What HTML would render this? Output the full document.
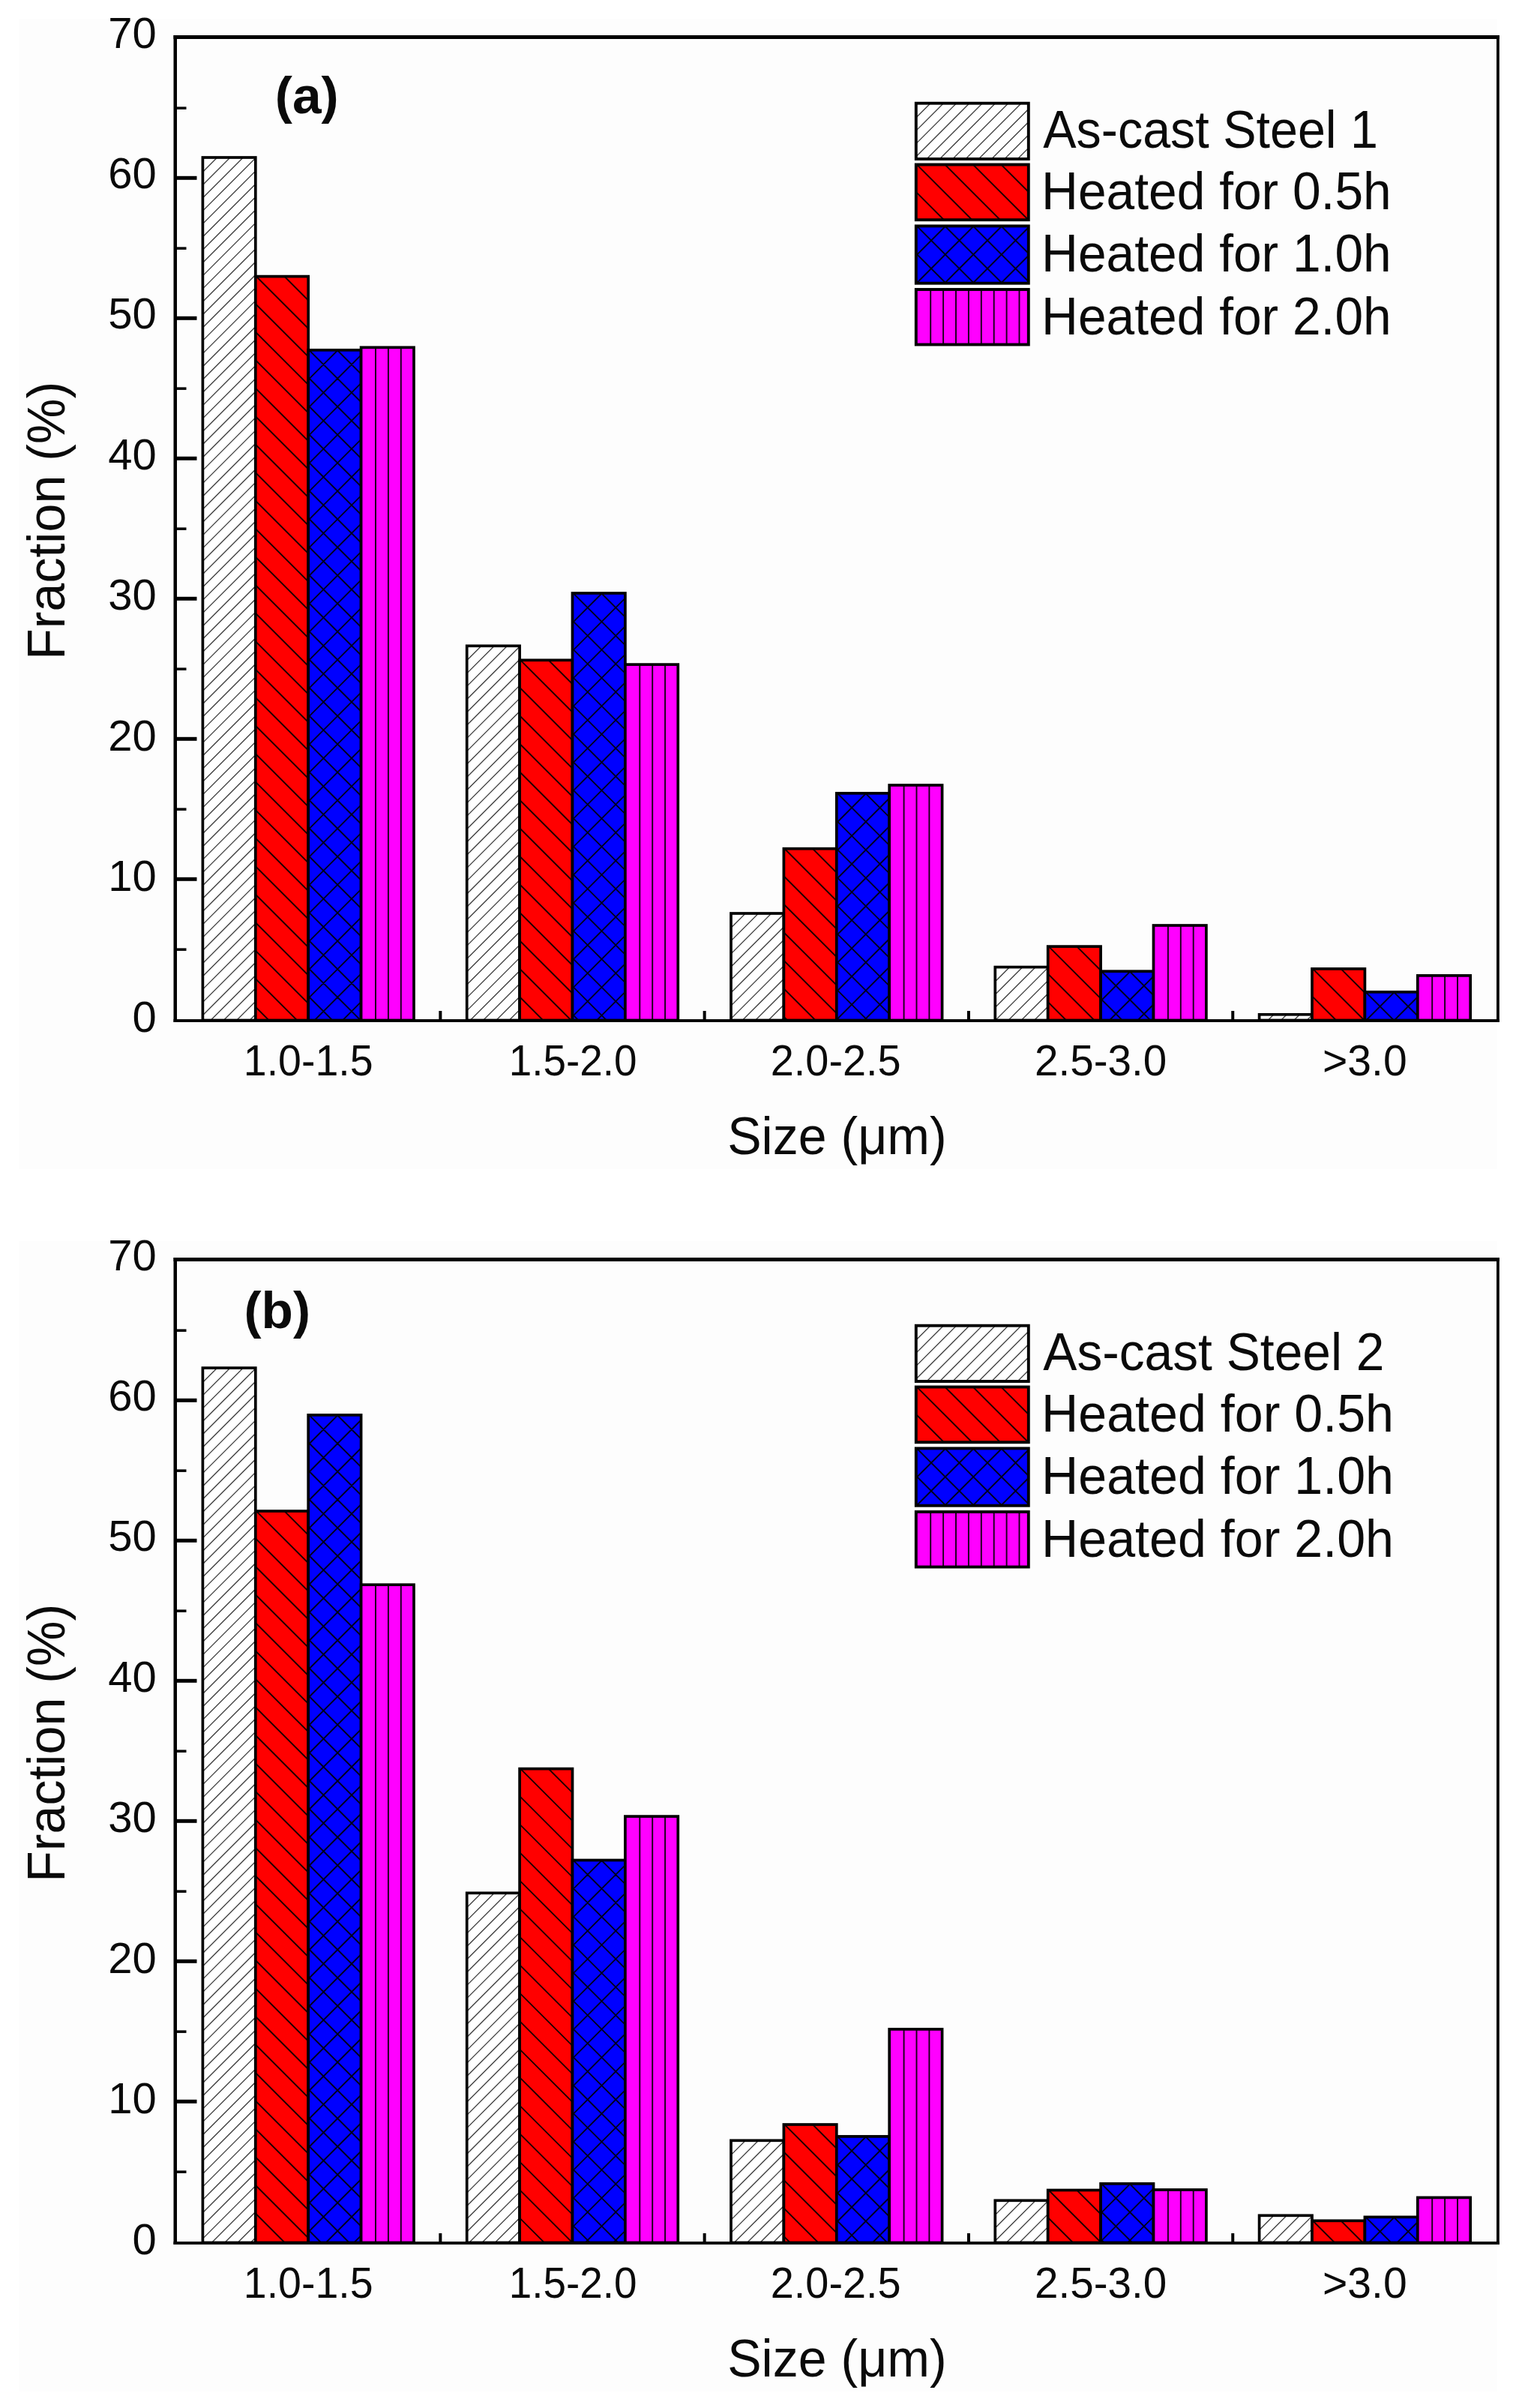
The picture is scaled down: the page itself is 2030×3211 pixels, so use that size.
<!DOCTYPE html>
<html lang="en">
<head>
<meta charset="utf-8">
<title>Size fraction of inclusions</title>
<style>
html,body{margin:0;padding:0;background:#fff;}
svg{display:block;}
text{font-family:"Liberation Sans", sans-serif;fill:#0a0a0a;}
</style>
</head>
<body>
<svg width="2030" height="3211" viewBox="0 0 2030 3211">
<rect width="2030" height="3211" fill="#fff"/>
<rect x="25" y="25" width="1972" height="1534" fill="#fdfdfd"/>
<rect x="25" y="1655" width="1972" height="1534" fill="#fdfdfd"/>
<defs>
<clipPath id="c1"><rect x="270.4" y="210" width="70.4" height="1150.5"/></clipPath>
<clipPath id="c2"><rect x="340.8" y="368.6" width="70.4" height="991.9"/></clipPath>
<clipPath id="c3"><rect x="411.2" y="466.8" width="70.4" height="893.7"/></clipPath>
<clipPath id="c4"><rect x="481.6" y="463.3" width="70.4" height="897.2"/></clipPath>
<clipPath id="c5"><rect x="622.7" y="861.3" width="70.4" height="499.2"/></clipPath>
<clipPath id="c6"><rect x="693.1" y="880.3" width="70.4" height="480.2"/></clipPath>
<clipPath id="c7"><rect x="763.5" y="791" width="70.4" height="569.5"/></clipPath>
<clipPath id="c8"><rect x="833.9" y="886.1" width="70.4" height="474.4"/></clipPath>
<clipPath id="c9"><rect x="975" y="1218" width="70.4" height="142.5"/></clipPath>
<clipPath id="c10"><rect x="1045.4" y="1131.7" width="70.4" height="228.8"/></clipPath>
<clipPath id="c11"><rect x="1115.8" y="1057.8" width="70.4" height="302.7"/></clipPath>
<clipPath id="c12"><rect x="1186.2" y="1047" width="70.4" height="313.5"/></clipPath>
<clipPath id="c13"><rect x="1327.3" y="1289.6" width="70.4" height="70.9"/></clipPath>
<clipPath id="c14"><rect x="1397.7" y="1262.1" width="70.4" height="98.4"/></clipPath>
<clipPath id="c15"><rect x="1468.1" y="1295.2" width="70.4" height="65.3"/></clipPath>
<clipPath id="c16"><rect x="1538.5" y="1234" width="70.4" height="126.5"/></clipPath>
<clipPath id="c17"><rect x="1679.6" y="1352.8" width="70.4" height="7.7"/></clipPath>
<clipPath id="c18"><rect x="1750" y="1291.9" width="70.4" height="68.6"/></clipPath>
<clipPath id="c19"><rect x="1820.4" y="1322.8" width="70.4" height="37.7"/></clipPath>
<clipPath id="c20"><rect x="1890.8" y="1300.9" width="70.4" height="59.6"/></clipPath>
<clipPath id="c21"><rect x="1221.8" y="137.7" width="150" height="74.3"/></clipPath>
<clipPath id="c22"><rect x="1221.8" y="219.5" width="150" height="73.7"/></clipPath>
<clipPath id="c23"><rect x="1221.8" y="301.4" width="150" height="76.3"/></clipPath>
<clipPath id="c24"><rect x="1221.8" y="386" width="150" height="73.5"/></clipPath>
<clipPath id="c25"><rect x="270.4" y="194.1" width="70.4" height="1166.4"/></clipPath>
<clipPath id="c26"><rect x="340.8" y="385" width="70.4" height="975.5"/></clipPath>
<clipPath id="c27"><rect x="411.2" y="256.9" width="70.4" height="1103.6"/></clipPath>
<clipPath id="c28"><rect x="481.6" y="483.2" width="70.4" height="877.3"/></clipPath>
<clipPath id="c29"><rect x="622.7" y="894.3" width="70.4" height="466.2"/></clipPath>
<clipPath id="c30"><rect x="693.1" y="728.6" width="70.4" height="631.9"/></clipPath>
<clipPath id="c31"><rect x="763.5" y="850.5" width="70.4" height="510"/></clipPath>
<clipPath id="c32"><rect x="833.9" y="792.1" width="70.4" height="568.4"/></clipPath>
<clipPath id="c33"><rect x="975" y="1224.3" width="70.4" height="136.2"/></clipPath>
<clipPath id="c34"><rect x="1045.4" y="1203" width="70.4" height="157.5"/></clipPath>
<clipPath id="c35"><rect x="1115.8" y="1218.9" width="70.4" height="141.6"/></clipPath>
<clipPath id="c36"><rect x="1186.2" y="1075.9" width="70.4" height="284.6"/></clipPath>
<clipPath id="c37"><rect x="1327.3" y="1304.3" width="70.4" height="56.2"/></clipPath>
<clipPath id="c38"><rect x="1397.7" y="1290.5" width="70.4" height="70"/></clipPath>
<clipPath id="c39"><rect x="1468.1" y="1281.9" width="70.4" height="78.6"/></clipPath>
<clipPath id="c40"><rect x="1538.5" y="1290" width="70.4" height="70.5"/></clipPath>
<clipPath id="c41"><rect x="1679.6" y="1324.3" width="70.4" height="36.2"/></clipPath>
<clipPath id="c42"><rect x="1750" y="1331.3" width="70.4" height="29.2"/></clipPath>
<clipPath id="c43"><rect x="1820.4" y="1326.4" width="70.4" height="34.1"/></clipPath>
<clipPath id="c44"><rect x="1890.8" y="1300.4" width="70.4" height="60.1"/></clipPath>
<clipPath id="c45"><rect x="1221.8" y="137.7" width="150" height="74.3"/></clipPath>
<clipPath id="c46"><rect x="1221.8" y="219.5" width="150" height="73.7"/></clipPath>
<clipPath id="c47"><rect x="1221.8" y="301.4" width="150" height="76.3"/></clipPath>
<clipPath id="c48"><rect x="1221.8" y="386" width="150" height="73.5"/></clipPath>
</defs>
<g id="plot-a">
<rect x="270.4" y="210" width="70.4" height="1150.5" fill="#ffffff"/>
<path clip-path="url(#c1)" d="M274.4 208L268.4 214M291.7 208L268.4 231.3M309 208L268.4 248.6M326.3 208L268.4 265.9M343.6 208L268.4 283.2M360.9 208L268.4 300.5M378.2 208L268.4 317.8M395.5 208L268.4 335.1M412.8 208L268.4 352.4M430.1 208L268.4 369.7M447.4 208L268.4 387M464.7 208L268.4 404.3M482 208L268.4 421.6M499.3 208L268.4 438.9M516.6 208L268.4 456.2M533.9 208L268.4 473.5M551.2 208L268.4 490.8M568.5 208L268.4 508.1M585.8 208L268.4 525.4M603.1 208L268.4 542.7M620.4 208L268.4 560M637.7 208L268.4 577.3M655 208L268.4 594.6M672.3 208L268.4 611.9M689.6 208L268.4 629.2M706.9 208L268.4 646.5M724.2 208L268.4 663.8M741.5 208L268.4 681.1M758.8 208L268.4 698.4M776.1 208L268.4 715.7M793.4 208L268.4 733M810.7 208L268.4 750.3M828 208L268.4 767.6M845.3 208L268.4 784.9M862.6 208L268.4 802.2M879.9 208L268.4 819.5M897.2 208L268.4 836.8M914.5 208L268.4 854.1M931.8 208L268.4 871.4M949.1 208L268.4 888.7M966.4 208L268.4 906M983.7 208L268.4 923.3M1001 208L268.4 940.6M1018.3 208L268.4 957.9M1035.6 208L268.4 975.2M1052.9 208L268.4 992.5M1070.2 208L268.4 1009.8M1087.5 208L268.4 1027.1M1104.8 208L268.4 1044.4M1122.1 208L268.4 1061.7M1139.4 208L268.4 1079M1156.7 208L268.4 1096.3M1174 208L268.4 1113.6M1191.3 208L268.4 1130.9M1208.6 208L268.4 1148.2M1225.9 208L268.4 1165.5M1243.2 208L268.4 1182.8M1260.5 208L268.4 1200.1M1277.8 208L268.4 1217.4M1295.1 208L268.4 1234.7M1312.4 208L268.4 1252M1329.7 208L268.4 1269.3M1347 208L268.4 1286.6M1364.3 208L268.4 1303.9M1381.6 208L268.4 1321.2M1398.9 208L268.4 1338.5M1416.2 208L268.4 1355.8M1433.5 208L268.4 1373.1M1450.8 208L268.4 1390.4M1468.1 208L268.4 1407.7M1485.4 208L268.4 1425" stroke="#404040" stroke-width="1.35" fill="none"/>
<rect x="270.4" y="210" width="70.4" height="1150.5" fill="none" stroke="#000" stroke-width="3.7"/>
<rect x="340.8" y="368.6" width="70.4" height="991.9" fill="#ff0000"/>
<path clip-path="url(#c2)" d="M-672.7 366.6L323.2 1362.5M-635.2 366.6L360.7 1362.5M-597.7 366.6L398.2 1362.5M-560.2 366.6L435.7 1362.5M-522.7 366.6L473.2 1362.5M-485.2 366.6L510.7 1362.5M-447.7 366.6L548.2 1362.5M-410.2 366.6L585.7 1362.5M-372.7 366.6L623.2 1362.5M-335.2 366.6L660.7 1362.5M-297.7 366.6L698.2 1362.5M-260.2 366.6L735.7 1362.5M-222.7 366.6L773.2 1362.5M-185.2 366.6L810.7 1362.5M-147.7 366.6L848.2 1362.5M-110.2 366.6L885.7 1362.5M-72.7 366.6L923.2 1362.5M-35.2 366.6L960.7 1362.5M2.3 366.6L998.2 1362.5M39.8 366.6L1035.7 1362.5M77.3 366.6L1073.2 1362.5M114.8 366.6L1110.7 1362.5M152.3 366.6L1148.2 1362.5M189.8 366.6L1185.7 1362.5M227.3 366.6L1223.2 1362.5M264.8 366.6L1260.7 1362.5M302.3 366.6L1298.2 1362.5M339.8 366.6L1335.7 1362.5M377.3 366.6L1373.2 1362.5" stroke="#1a0000" stroke-width="1.9" fill="none"/>
<rect x="340.8" y="368.6" width="70.4" height="991.9" fill="none" stroke="#000" stroke-width="3.7"/>
<rect x="411.2" y="466.8" width="70.4" height="893.7" fill="#0000ff"/>
<path clip-path="url(#c3)" d="M-489.8 464.8L407.9 1362.5M-452.3 464.8L445.4 1362.5M-414.8 464.8L482.9 1362.5M-377.3 464.8L520.4 1362.5M-339.8 464.8L557.9 1362.5M-302.3 464.8L595.4 1362.5M-264.8 464.8L632.9 1362.5M-227.3 464.8L670.4 1362.5M-189.8 464.8L707.9 1362.5M-152.3 464.8L745.4 1362.5M-114.8 464.8L782.9 1362.5M-77.3 464.8L820.4 1362.5M-39.8 464.8L857.9 1362.5M-2.3 464.8L895.4 1362.5M35.2 464.8L932.9 1362.5M72.7 464.8L970.4 1362.5M110.2 464.8L1007.9 1362.5M147.7 464.8L1045.4 1362.5M185.2 464.8L1082.9 1362.5M222.7 464.8L1120.4 1362.5M260.2 464.8L1157.9 1362.5M297.7 464.8L1195.4 1362.5M335.2 464.8L1232.9 1362.5M372.7 464.8L1270.4 1362.5M410.2 464.8L1307.9 1362.5M447.7 464.8L1345.4 1362.5M415.2 464.8L409.2 470.8M452.7 464.8L409.2 508.3M490.2 464.8L409.2 545.8M527.7 464.8L409.2 583.3M565.2 464.8L409.2 620.8M602.7 464.8L409.2 658.3M640.2 464.8L409.2 695.8M677.7 464.8L409.2 733.3M715.2 464.8L409.2 770.8M752.7 464.8L409.2 808.3M790.2 464.8L409.2 845.8M827.7 464.8L409.2 883.3M865.2 464.8L409.2 920.8M902.7 464.8L409.2 958.3M940.2 464.8L409.2 995.8M977.7 464.8L409.2 1033.3M1015.2 464.8L409.2 1070.8M1052.7 464.8L409.2 1108.3M1090.2 464.8L409.2 1145.8M1127.7 464.8L409.2 1183.3M1165.2 464.8L409.2 1220.8M1202.7 464.8L409.2 1258.3M1240.2 464.8L409.2 1295.8M1277.7 464.8L409.2 1333.3M1315.2 464.8L409.2 1370.8M1352.7 464.8L409.2 1408.3" stroke="#00001a" stroke-width="1.9" fill="none"/>
<rect x="411.2" y="466.8" width="70.4" height="893.7" fill="none" stroke="#000" stroke-width="3.7"/>
<rect x="481.6" y="463.3" width="70.4" height="897.2" fill="#ff00ff"/>
<path clip-path="url(#c4)" d="M501 463.3V1360.5M517.9 463.3V1360.5M534.8 463.3V1360.5" stroke="#1a0018" stroke-width="1.9" fill="none"/>
<rect x="481.6" y="463.3" width="70.4" height="897.2" fill="none" stroke="#000" stroke-width="3.7"/>
<rect x="622.7" y="861.3" width="70.4" height="499.2" fill="#ffffff"/>
<path clip-path="url(#c5)" d="M626.7 859.3L620.7 865.3M644 859.3L620.7 882.6M661.3 859.3L620.7 899.9M678.6 859.3L620.7 917.2M695.9 859.3L620.7 934.5M713.2 859.3L620.7 951.8M730.5 859.3L620.7 969.1M747.8 859.3L620.7 986.4M765.1 859.3L620.7 1003.7M782.4 859.3L620.7 1021M799.7 859.3L620.7 1038.3M817 859.3L620.7 1055.6M834.3 859.3L620.7 1072.9M851.6 859.3L620.7 1090.2M868.9 859.3L620.7 1107.5M886.2 859.3L620.7 1124.8M903.5 859.3L620.7 1142.1M920.8 859.3L620.7 1159.4M938.1 859.3L620.7 1176.7M955.4 859.3L620.7 1194M972.7 859.3L620.7 1211.3M990 859.3L620.7 1228.6M1007.3 859.3L620.7 1245.9M1024.6 859.3L620.7 1263.2M1041.9 859.3L620.7 1280.5M1059.2 859.3L620.7 1297.8M1076.5 859.3L620.7 1315.1M1093.8 859.3L620.7 1332.4M1111.1 859.3L620.7 1349.7M1128.4 859.3L620.7 1367M1145.7 859.3L620.7 1384.3M1163 859.3L620.7 1401.6M1180.3 859.3L620.7 1418.9" stroke="#404040" stroke-width="1.35" fill="none"/>
<rect x="622.7" y="861.3" width="70.4" height="499.2" fill="none" stroke="#000" stroke-width="3.7"/>
<rect x="693.1" y="880.3" width="70.4" height="480.2" fill="#ff0000"/>
<path clip-path="url(#c6)" d="M204.6 878.3L688.8 1362.5M242.1 878.3L726.3 1362.5M279.6 878.3L763.8 1362.5M317.1 878.3L801.3 1362.5M354.6 878.3L838.8 1362.5M392.1 878.3L876.3 1362.5M429.6 878.3L913.8 1362.5M467.1 878.3L951.3 1362.5M504.6 878.3L988.8 1362.5M542.1 878.3L1026.3 1362.5M579.6 878.3L1063.8 1362.5M617.1 878.3L1101.3 1362.5M654.6 878.3L1138.8 1362.5M692.1 878.3L1176.3 1362.5M729.6 878.3L1213.8 1362.5" stroke="#1a0000" stroke-width="1.9" fill="none"/>
<rect x="693.1" y="880.3" width="70.4" height="480.2" fill="none" stroke="#000" stroke-width="3.7"/>
<rect x="763.5" y="791" width="70.4" height="569.5" fill="#0000ff"/>
<path clip-path="url(#c7)" d="M162.5 789L736 1362.5M200 789L773.5 1362.5M237.5 789L811 1362.5M275 789L848.5 1362.5M312.5 789L886 1362.5M350 789L923.5 1362.5M387.5 789L961 1362.5M425 789L998.5 1362.5M462.5 789L1036 1362.5M500 789L1073.5 1362.5M537.5 789L1111 1362.5M575 789L1148.5 1362.5M612.5 789L1186 1362.5M650 789L1223.5 1362.5M687.5 789L1261 1362.5M725 789L1298.5 1362.5M762.5 789L1336 1362.5M800 789L1373.5 1362.5M767.5 789L761.5 795M805 789L761.5 832.5M842.5 789L761.5 870M880 789L761.5 907.5M917.5 789L761.5 945M955 789L761.5 982.5M992.5 789L761.5 1020M1030 789L761.5 1057.5M1067.5 789L761.5 1095M1105 789L761.5 1132.5M1142.5 789L761.5 1170M1180 789L761.5 1207.5M1217.5 789L761.5 1245M1255 789L761.5 1282.5M1292.5 789L761.5 1320M1330 789L761.5 1357.5M1367.5 789L761.5 1395M1405 789L761.5 1432.5" stroke="#00001a" stroke-width="1.9" fill="none"/>
<rect x="763.5" y="791" width="70.4" height="569.5" fill="none" stroke="#000" stroke-width="3.7"/>
<rect x="833.9" y="886.1" width="70.4" height="474.4" fill="#ff00ff"/>
<path clip-path="url(#c8)" d="M853.3 886.1V1360.5M870.2 886.1V1360.5M887.1 886.1V1360.5" stroke="#1a0018" stroke-width="1.9" fill="none"/>
<rect x="833.9" y="886.1" width="70.4" height="474.4" fill="none" stroke="#000" stroke-width="3.7"/>
<rect x="975" y="1218" width="70.4" height="142.5" fill="#ffffff"/>
<path clip-path="url(#c9)" d="M979 1216L973 1222M996.3 1216L973 1239.3M1013.6 1216L973 1256.6M1030.9 1216L973 1273.9M1048.2 1216L973 1291.2M1065.5 1216L973 1308.5M1082.8 1216L973 1325.8M1100.1 1216L973 1343.1M1117.4 1216L973 1360.4M1134.7 1216L973 1377.7M1152 1216L973 1395M1169.3 1216L973 1412.3M1186.6 1216L973 1429.6" stroke="#404040" stroke-width="1.35" fill="none"/>
<rect x="975" y="1218" width="70.4" height="142.5" fill="none" stroke="#000" stroke-width="3.7"/>
<rect x="1045.4" y="1131.7" width="70.4" height="228.8" fill="#ff0000"/>
<path clip-path="url(#c10)" d="M781.9 1129.7L1014.7 1362.5M819.4 1129.7L1052.2 1362.5M856.9 1129.7L1089.7 1362.5M894.4 1129.7L1127.2 1362.5M931.9 1129.7L1164.7 1362.5M969.4 1129.7L1202.2 1362.5M1006.9 1129.7L1239.7 1362.5M1044.4 1129.7L1277.2 1362.5M1081.9 1129.7L1314.7 1362.5" stroke="#1a0000" stroke-width="1.9" fill="none"/>
<rect x="1045.4" y="1131.7" width="70.4" height="228.8" fill="none" stroke="#000" stroke-width="3.7"/>
<rect x="1115.8" y="1057.8" width="70.4" height="302.7" fill="#0000ff"/>
<path clip-path="url(#c11)" d="M777.3 1055.8L1084 1362.5M814.8 1055.8L1121.5 1362.5M852.3 1055.8L1159 1362.5M889.8 1055.8L1196.5 1362.5M927.3 1055.8L1234 1362.5M964.8 1055.8L1271.5 1362.5M1002.3 1055.8L1309 1362.5M1039.8 1055.8L1346.5 1362.5M1077.3 1055.8L1384 1362.5M1114.8 1055.8L1421.5 1362.5M1152.3 1055.8L1459 1362.5M1119.8 1055.8L1113.8 1061.8M1157.3 1055.8L1113.8 1099.3M1194.8 1055.8L1113.8 1136.8M1232.3 1055.8L1113.8 1174.3M1269.8 1055.8L1113.8 1211.8M1307.3 1055.8L1113.8 1249.3M1344.8 1055.8L1113.8 1286.8M1382.3 1055.8L1113.8 1324.3M1419.8 1055.8L1113.8 1361.8M1457.3 1055.8L1113.8 1399.3" stroke="#00001a" stroke-width="1.9" fill="none"/>
<rect x="1115.8" y="1057.8" width="70.4" height="302.7" fill="none" stroke="#000" stroke-width="3.7"/>
<rect x="1186.2" y="1047" width="70.4" height="313.5" fill="#ff00ff"/>
<path clip-path="url(#c12)" d="M1205.6 1047V1360.5M1222.5 1047V1360.5M1239.4 1047V1360.5" stroke="#1a0018" stroke-width="1.9" fill="none"/>
<rect x="1186.2" y="1047" width="70.4" height="313.5" fill="none" stroke="#000" stroke-width="3.7"/>
<rect x="1327.3" y="1289.6" width="70.4" height="70.9" fill="#ffffff"/>
<path clip-path="url(#c13)" d="M1331.3 1287.6L1325.3 1293.6M1348.6 1287.6L1325.3 1310.9M1365.9 1287.6L1325.3 1328.2M1383.2 1287.6L1325.3 1345.5M1400.5 1287.6L1325.3 1362.8M1417.8 1287.6L1325.3 1380.1M1435.1 1287.6L1325.3 1397.4M1452.4 1287.6L1325.3 1414.7M1469.7 1287.6L1325.3 1432" stroke="#404040" stroke-width="1.35" fill="none"/>
<rect x="1327.3" y="1289.6" width="70.4" height="70.9" fill="none" stroke="#000" stroke-width="3.7"/>
<rect x="1397.7" y="1262.1" width="70.4" height="98.4" fill="#ff0000"/>
<path clip-path="url(#c14)" d="M1284.2 1260.1L1386.6 1362.5M1321.7 1260.1L1424.1 1362.5M1359.2 1260.1L1461.6 1362.5M1396.7 1260.1L1499.1 1362.5M1434.2 1260.1L1536.6 1362.5" stroke="#1a0000" stroke-width="1.9" fill="none"/>
<rect x="1397.7" y="1262.1" width="70.4" height="98.4" fill="none" stroke="#000" stroke-width="3.7"/>
<rect x="1468.1" y="1295.2" width="70.4" height="65.3" fill="#0000ff"/>
<path clip-path="url(#c15)" d="M1392.1 1293.2L1461.4 1362.5M1429.6 1293.2L1498.9 1362.5M1467.1 1293.2L1536.4 1362.5M1504.6 1293.2L1573.9 1362.5M1472.1 1293.2L1466.1 1299.2M1509.6 1293.2L1466.1 1336.7M1547.1 1293.2L1466.1 1374.2M1584.6 1293.2L1466.1 1411.7" stroke="#00001a" stroke-width="1.9" fill="none"/>
<rect x="1468.1" y="1295.2" width="70.4" height="65.3" fill="none" stroke="#000" stroke-width="3.7"/>
<rect x="1538.5" y="1234" width="70.4" height="126.5" fill="#ff00ff"/>
<path clip-path="url(#c16)" d="M1557.9 1234V1360.5M1574.8 1234V1360.5M1591.7 1234V1360.5" stroke="#1a0018" stroke-width="1.9" fill="none"/>
<rect x="1538.5" y="1234" width="70.4" height="126.5" fill="none" stroke="#000" stroke-width="3.7"/>
<rect x="1679.6" y="1352.8" width="70.4" height="7.7" fill="#ffffff"/>
<path clip-path="url(#c17)" d="M1683.6 1350.8L1677.6 1356.8M1700.9 1350.8L1677.6 1374.1M1718.2 1350.8L1677.6 1391.4M1735.5 1350.8L1677.6 1408.7M1752.8 1350.8L1677.6 1426" stroke="#404040" stroke-width="1.35" fill="none"/>
<rect x="1679.6" y="1352.8" width="70.4" height="7.7" fill="none" stroke="#000" stroke-width="3.7"/>
<rect x="1750" y="1291.9" width="70.4" height="68.6" fill="#ff0000"/>
<path clip-path="url(#c18)" d="M1674 1289.9L1746.6 1362.5M1711.5 1289.9L1784.1 1362.5M1749 1289.9L1821.6 1362.5M1786.5 1289.9L1859.1 1362.5" stroke="#1a0000" stroke-width="1.9" fill="none"/>
<rect x="1750" y="1291.9" width="70.4" height="68.6" fill="none" stroke="#000" stroke-width="3.7"/>
<rect x="1820.4" y="1322.8" width="70.4" height="37.7" fill="#0000ff"/>
<path clip-path="url(#c19)" d="M1744.4 1320.8L1786.1 1362.5M1781.9 1320.8L1823.6 1362.5M1819.4 1320.8L1861.1 1362.5M1856.9 1320.8L1898.6 1362.5M1824.4 1320.8L1818.4 1326.8M1861.9 1320.8L1818.4 1364.3M1899.4 1320.8L1818.4 1401.8" stroke="#00001a" stroke-width="1.9" fill="none"/>
<rect x="1820.4" y="1322.8" width="70.4" height="37.7" fill="none" stroke="#000" stroke-width="3.7"/>
<rect x="1890.8" y="1300.9" width="70.4" height="59.6" fill="#ff00ff"/>
<path clip-path="url(#c20)" d="M1910.2 1300.9V1360.5M1927.1 1300.9V1360.5M1944 1300.9V1360.5" stroke="#1a0018" stroke-width="1.9" fill="none"/>
<rect x="1890.8" y="1300.9" width="70.4" height="59.6" fill="none" stroke="#000" stroke-width="3.7"/>
<rect x="233.5" y="1264.4" width="15" height="3.5" fill="#000"/>
<rect x="233.5" y="1169.8" width="29" height="5" fill="#000"/>
<rect x="233.5" y="1077.4" width="15" height="3.5" fill="#000"/>
<rect x="233.5" y="982.8" width="29" height="5" fill="#000"/>
<rect x="233.5" y="890.4" width="15" height="3.5" fill="#000"/>
<rect x="233.5" y="795.8" width="29" height="5" fill="#000"/>
<rect x="233.5" y="703.4" width="15" height="3.5" fill="#000"/>
<rect x="233.5" y="608.8" width="29" height="5" fill="#000"/>
<rect x="233.5" y="516.4" width="15" height="3.5" fill="#000"/>
<rect x="233.5" y="421.8" width="29" height="5" fill="#000"/>
<rect x="233.5" y="329.4" width="15" height="3.5" fill="#000"/>
<rect x="233.5" y="234.8" width="29" height="5" fill="#000"/>
<rect x="233.5" y="142.4" width="15" height="3.5" fill="#000"/>
<rect x="585.35" y="1348" width="4" height="12.5" fill="#000"/>
<rect x="937.65" y="1348" width="4" height="12.5" fill="#000"/>
<rect x="1289.95" y="1348" width="4" height="12.5" fill="#000"/>
<rect x="1642.25" y="1348" width="4" height="12.5" fill="#000"/>
<rect x="231.5" y="47" width="1768.3" height="5" fill="#000"/>
<rect x="231.5" y="47" width="4.5" height="1316" fill="#000"/>
<rect x="231.5" y="1359.1" width="1768.3" height="3.9" fill="#000"/>
<rect x="1996" y="47" width="3.8" height="1316" fill="#000"/>
<text x="208.67" y="1375.6" font-size="58" text-anchor="end">0</text>
<text x="208.67" y="1188.17" font-size="58" text-anchor="end">10</text>
<text x="208.67" y="1000.74" font-size="58" text-anchor="end">20</text>
<text x="208.67" y="813.31" font-size="58" text-anchor="end">30</text>
<text x="208.67" y="625.88" font-size="58" text-anchor="end">40</text>
<text x="208.67" y="438.45" font-size="58" text-anchor="end">50</text>
<text x="208.67" y="251.02" font-size="58" text-anchor="end">60</text>
<text x="208.67" y="63.59" font-size="58" text-anchor="end">70</text>
<text x="324.77" y="1433.5" font-size="58" textLength="172.86" lengthAdjust="spacingAndGlyphs">1.0-1.5</text>
<text x="678.72" y="1433.5" font-size="58" textLength="170.72" lengthAdjust="spacingAndGlyphs">1.5-2.0</text>
<text x="1027.79" y="1433.5" font-size="58" textLength="173.85" lengthAdjust="spacingAndGlyphs">2.0-2.5</text>
<text x="1380.05" y="1433.5" font-size="58" textLength="176.16" lengthAdjust="spacingAndGlyphs">2.5-3.0</text>
<text x="1763.99" y="1433.5" font-size="58" textLength="112.64" lengthAdjust="spacingAndGlyphs">&gt;3.0</text>
<text x="970.21" y="1538.5" font-size="70" textLength="292.51" lengthAdjust="spacingAndGlyphs">Size (μm)</text>
<g transform="translate(85.7 0) rotate(-90)"><text x="-879.79" y="0" font-size="70" textLength="370.91" lengthAdjust="spacingAndGlyphs">Fraction (%)</text></g>
<text x="366.84" y="151.2" font-size="68" textLength="84.92" lengthAdjust="spacingAndGlyphs" font-weight="bold">(a)</text>
<rect x="1221.8" y="137.7" width="150" height="74.3" fill="#ffffff"/>
<path clip-path="url(#c21)" d="M1225.8 135.7L1219.8 141.7M1243.1 135.7L1219.8 159M1260.4 135.7L1219.8 176.3M1277.7 135.7L1219.8 193.6M1295 135.7L1219.8 210.9M1312.3 135.7L1219.8 228.2M1329.6 135.7L1219.8 245.5M1346.9 135.7L1219.8 262.8M1364.2 135.7L1219.8 280.1M1381.5 135.7L1219.8 297.4M1398.8 135.7L1219.8 314.7M1416.1 135.7L1219.8 332M1433.4 135.7L1219.8 349.3" stroke="#404040" stroke-width="1.35" fill="none"/>
<rect x="1221.8" y="137.7" width="150" height="74.3" fill="none" stroke="#000" stroke-width="3.9"/>
<text x="1391.27" y="196.9" font-size="70" textLength="446.77" lengthAdjust="spacingAndGlyphs">As-cast Steel 1</text>
<rect x="1221.8" y="219.5" width="150" height="73.7" fill="#ff0000"/>
<path clip-path="url(#c22)" d="M1145.8 217.5L1223.5 295.2M1183.3 217.5L1261 295.2M1220.8 217.5L1298.5 295.2M1258.3 217.5L1336 295.2M1295.8 217.5L1373.5 295.2M1333.3 217.5L1411 295.2" stroke="#1a0000" stroke-width="1.9" fill="none"/>
<rect x="1221.8" y="219.5" width="150" height="73.7" fill="none" stroke="#000" stroke-width="3.9"/>
<text x="1389.05" y="279.1" font-size="70" textLength="466.65" lengthAdjust="spacingAndGlyphs">Heated for 0.5h</text>
<rect x="1221.8" y="301.4" width="150" height="76.3" fill="#0000ff"/>
<path clip-path="url(#c23)" d="M1108.3 299.4L1188.6 379.7M1145.8 299.4L1226.1 379.7M1183.3 299.4L1263.6 379.7M1220.8 299.4L1301.1 379.7M1258.3 299.4L1338.6 379.7M1295.8 299.4L1376.1 379.7M1333.3 299.4L1413.6 379.7M1225.8 299.4L1219.8 305.4M1263.3 299.4L1219.8 342.9M1300.8 299.4L1219.8 380.4M1338.3 299.4L1219.8 417.9M1375.8 299.4L1219.8 455.4M1413.3 299.4L1219.8 492.9" stroke="#00001a" stroke-width="1.9" fill="none"/>
<rect x="1221.8" y="301.4" width="150" height="76.3" fill="none" stroke="#000" stroke-width="3.9"/>
<text x="1389.05" y="361.9" font-size="70" textLength="466.65" lengthAdjust="spacingAndGlyphs">Heated for 1.0h</text>
<rect x="1221.8" y="386" width="150" height="73.5" fill="#ff00ff"/>
<path clip-path="url(#c24)" d="M1241.2 386V459.5M1258.1 386V459.5M1275 386V459.5M1291.9 386V459.5M1308.8 386V459.5M1325.7 386V459.5M1342.6 386V459.5M1359.5 386V459.5" stroke="#1a0018" stroke-width="1.9" fill="none"/>
<rect x="1221.8" y="386" width="150" height="73.5" fill="none" stroke="#000" stroke-width="3.9"/>
<text x="1389.05" y="445.6" font-size="70" textLength="466.65" lengthAdjust="spacingAndGlyphs">Heated for 2.0h</text>
</g>
<g id="plot-b" transform="translate(0 1630)">
<rect x="270.4" y="194.1" width="70.4" height="1166.4" fill="#ffffff"/>
<path clip-path="url(#c25)" d="M274.4 192.1L268.4 198.1M291.7 192.1L268.4 215.4M309 192.1L268.4 232.7M326.3 192.1L268.4 250M343.6 192.1L268.4 267.3M360.9 192.1L268.4 284.6M378.2 192.1L268.4 301.9M395.5 192.1L268.4 319.2M412.8 192.1L268.4 336.5M430.1 192.1L268.4 353.8M447.4 192.1L268.4 371.1M464.7 192.1L268.4 388.4M482 192.1L268.4 405.7M499.3 192.1L268.4 423M516.6 192.1L268.4 440.3M533.9 192.1L268.4 457.6M551.2 192.1L268.4 474.9M568.5 192.1L268.4 492.2M585.8 192.1L268.4 509.5M603.1 192.1L268.4 526.8M620.4 192.1L268.4 544.1M637.7 192.1L268.4 561.4M655 192.1L268.4 578.7M672.3 192.1L268.4 596M689.6 192.1L268.4 613.3M706.9 192.1L268.4 630.6M724.2 192.1L268.4 647.9M741.5 192.1L268.4 665.2M758.8 192.1L268.4 682.5M776.1 192.1L268.4 699.8M793.4 192.1L268.4 717.1M810.7 192.1L268.4 734.4M828 192.1L268.4 751.7M845.3 192.1L268.4 769M862.6 192.1L268.4 786.3M879.9 192.1L268.4 803.6M897.2 192.1L268.4 820.9M914.5 192.1L268.4 838.2M931.8 192.1L268.4 855.5M949.1 192.1L268.4 872.8M966.4 192.1L268.4 890.1M983.7 192.1L268.4 907.4M1001 192.1L268.4 924.7M1018.3 192.1L268.4 942M1035.6 192.1L268.4 959.3M1052.9 192.1L268.4 976.6M1070.2 192.1L268.4 993.9M1087.5 192.1L268.4 1011.2M1104.8 192.1L268.4 1028.5M1122.1 192.1L268.4 1045.8M1139.4 192.1L268.4 1063.1M1156.7 192.1L268.4 1080.4M1174 192.1L268.4 1097.7M1191.3 192.1L268.4 1115M1208.6 192.1L268.4 1132.3M1225.9 192.1L268.4 1149.6M1243.2 192.1L268.4 1166.9M1260.5 192.1L268.4 1184.2M1277.8 192.1L268.4 1201.5M1295.1 192.1L268.4 1218.8M1312.4 192.1L268.4 1236.1M1329.7 192.1L268.4 1253.4M1347 192.1L268.4 1270.7M1364.3 192.1L268.4 1288M1381.6 192.1L268.4 1305.3M1398.9 192.1L268.4 1322.6M1416.2 192.1L268.4 1339.9M1433.5 192.1L268.4 1357.2M1450.8 192.1L268.4 1374.5M1468.1 192.1L268.4 1391.8M1485.4 192.1L268.4 1409.1M1502.7 192.1L268.4 1426.4" stroke="#404040" stroke-width="1.35" fill="none"/>
<rect x="270.4" y="194.1" width="70.4" height="1166.4" fill="none" stroke="#000" stroke-width="3.7"/>
<rect x="340.8" y="385" width="70.4" height="975.5" fill="#ff0000"/>
<path clip-path="url(#c26)" d="M-672.7 383L306.8 1362.5M-635.2 383L344.3 1362.5M-597.7 383L381.8 1362.5M-560.2 383L419.3 1362.5M-522.7 383L456.8 1362.5M-485.2 383L494.3 1362.5M-447.7 383L531.8 1362.5M-410.2 383L569.3 1362.5M-372.7 383L606.8 1362.5M-335.2 383L644.3 1362.5M-297.7 383L681.8 1362.5M-260.2 383L719.3 1362.5M-222.7 383L756.8 1362.5M-185.2 383L794.3 1362.5M-147.7 383L831.8 1362.5M-110.2 383L869.3 1362.5M-72.7 383L906.8 1362.5M-35.2 383L944.3 1362.5M2.3 383L981.8 1362.5M39.8 383L1019.3 1362.5M77.3 383L1056.8 1362.5M114.8 383L1094.3 1362.5M152.3 383L1131.8 1362.5M189.8 383L1169.3 1362.5M227.3 383L1206.8 1362.5M264.8 383L1244.3 1362.5M302.3 383L1281.8 1362.5M339.8 383L1319.3 1362.5M377.3 383L1356.8 1362.5" stroke="#1a0000" stroke-width="1.9" fill="none"/>
<rect x="340.8" y="385" width="70.4" height="975.5" fill="none" stroke="#000" stroke-width="3.7"/>
<rect x="411.2" y="256.9" width="70.4" height="1103.6" fill="#0000ff"/>
<path clip-path="url(#c27)" d="M-714.8 254.9L392.8 1362.5M-677.3 254.9L430.3 1362.5M-639.8 254.9L467.8 1362.5M-602.3 254.9L505.3 1362.5M-564.8 254.9L542.8 1362.5M-527.3 254.9L580.3 1362.5M-489.8 254.9L617.8 1362.5M-452.3 254.9L655.3 1362.5M-414.8 254.9L692.8 1362.5M-377.3 254.9L730.3 1362.5M-339.8 254.9L767.8 1362.5M-302.3 254.9L805.3 1362.5M-264.8 254.9L842.8 1362.5M-227.3 254.9L880.3 1362.5M-189.8 254.9L917.8 1362.5M-152.3 254.9L955.3 1362.5M-114.8 254.9L992.8 1362.5M-77.3 254.9L1030.3 1362.5M-39.8 254.9L1067.8 1362.5M-2.3 254.9L1105.3 1362.5M35.2 254.9L1142.8 1362.5M72.7 254.9L1180.3 1362.5M110.2 254.9L1217.8 1362.5M147.7 254.9L1255.3 1362.5M185.2 254.9L1292.8 1362.5M222.7 254.9L1330.3 1362.5M260.2 254.9L1367.8 1362.5M297.7 254.9L1405.3 1362.5M335.2 254.9L1442.8 1362.5M372.7 254.9L1480.3 1362.5M410.2 254.9L1517.8 1362.5M447.7 254.9L1555.3 1362.5M415.2 254.9L409.2 260.9M452.7 254.9L409.2 298.4M490.2 254.9L409.2 335.9M527.7 254.9L409.2 373.4M565.2 254.9L409.2 410.9M602.7 254.9L409.2 448.4M640.2 254.9L409.2 485.9M677.7 254.9L409.2 523.4M715.2 254.9L409.2 560.9M752.7 254.9L409.2 598.4M790.2 254.9L409.2 635.9M827.7 254.9L409.2 673.4M865.2 254.9L409.2 710.9M902.7 254.9L409.2 748.4M940.2 254.9L409.2 785.9M977.7 254.9L409.2 823.4M1015.2 254.9L409.2 860.9M1052.7 254.9L409.2 898.4M1090.2 254.9L409.2 935.9M1127.7 254.9L409.2 973.4M1165.2 254.9L409.2 1010.9M1202.7 254.9L409.2 1048.4M1240.2 254.9L409.2 1085.9M1277.7 254.9L409.2 1123.4M1315.2 254.9L409.2 1160.9M1352.7 254.9L409.2 1198.4M1390.2 254.9L409.2 1235.9M1427.7 254.9L409.2 1273.4M1465.2 254.9L409.2 1310.9M1502.7 254.9L409.2 1348.4M1540.2 254.9L409.2 1385.9M1577.7 254.9L409.2 1423.4" stroke="#00001a" stroke-width="1.9" fill="none"/>
<rect x="411.2" y="256.9" width="70.4" height="1103.6" fill="none" stroke="#000" stroke-width="3.7"/>
<rect x="481.6" y="483.2" width="70.4" height="877.3" fill="#ff00ff"/>
<path clip-path="url(#c28)" d="M501 483.2V1360.5M517.9 483.2V1360.5M534.8 483.2V1360.5" stroke="#1a0018" stroke-width="1.9" fill="none"/>
<rect x="481.6" y="483.2" width="70.4" height="877.3" fill="none" stroke="#000" stroke-width="3.7"/>
<rect x="622.7" y="894.3" width="70.4" height="466.2" fill="#ffffff"/>
<path clip-path="url(#c29)" d="M626.7 892.3L620.7 898.3M644 892.3L620.7 915.6M661.3 892.3L620.7 932.9M678.6 892.3L620.7 950.2M695.9 892.3L620.7 967.5M713.2 892.3L620.7 984.8M730.5 892.3L620.7 1002.1M747.8 892.3L620.7 1019.4M765.1 892.3L620.7 1036.7M782.4 892.3L620.7 1054M799.7 892.3L620.7 1071.3M817 892.3L620.7 1088.6M834.3 892.3L620.7 1105.9M851.6 892.3L620.7 1123.2M868.9 892.3L620.7 1140.5M886.2 892.3L620.7 1157.8M903.5 892.3L620.7 1175.1M920.8 892.3L620.7 1192.4M938.1 892.3L620.7 1209.7M955.4 892.3L620.7 1227M972.7 892.3L620.7 1244.3M990 892.3L620.7 1261.6M1007.3 892.3L620.7 1278.9M1024.6 892.3L620.7 1296.2M1041.9 892.3L620.7 1313.5M1059.2 892.3L620.7 1330.8M1076.5 892.3L620.7 1348.1M1093.8 892.3L620.7 1365.4M1111.1 892.3L620.7 1382.7M1128.4 892.3L620.7 1400M1145.7 892.3L620.7 1417.3" stroke="#404040" stroke-width="1.35" fill="none"/>
<rect x="622.7" y="894.3" width="70.4" height="466.2" fill="none" stroke="#000" stroke-width="3.7"/>
<rect x="693.1" y="728.6" width="70.4" height="631.9" fill="#ff0000"/>
<path clip-path="url(#c30)" d="M54.6 726.6L690.5 1362.5M92.1 726.6L728 1362.5M129.6 726.6L765.5 1362.5M167.1 726.6L803 1362.5M204.6 726.6L840.5 1362.5M242.1 726.6L878 1362.5M279.6 726.6L915.5 1362.5M317.1 726.6L953 1362.5M354.6 726.6L990.5 1362.5M392.1 726.6L1028 1362.5M429.6 726.6L1065.5 1362.5M467.1 726.6L1103 1362.5M504.6 726.6L1140.5 1362.5M542.1 726.6L1178 1362.5M579.6 726.6L1215.5 1362.5M617.1 726.6L1253 1362.5M654.6 726.6L1290.5 1362.5M692.1 726.6L1328 1362.5M729.6 726.6L1365.5 1362.5" stroke="#1a0000" stroke-width="1.9" fill="none"/>
<rect x="693.1" y="728.6" width="70.4" height="631.9" fill="none" stroke="#000" stroke-width="3.7"/>
<rect x="763.5" y="850.5" width="70.4" height="510" fill="#0000ff"/>
<path clip-path="url(#c31)" d="M237.5 848.5L751.5 1362.5M275 848.5L789 1362.5M312.5 848.5L826.5 1362.5M350 848.5L864 1362.5M387.5 848.5L901.5 1362.5M425 848.5L939 1362.5M462.5 848.5L976.5 1362.5M500 848.5L1014 1362.5M537.5 848.5L1051.5 1362.5M575 848.5L1089 1362.5M612.5 848.5L1126.5 1362.5M650 848.5L1164 1362.5M687.5 848.5L1201.5 1362.5M725 848.5L1239 1362.5M762.5 848.5L1276.5 1362.5M800 848.5L1314 1362.5M767.5 848.5L761.5 854.5M805 848.5L761.5 892M842.5 848.5L761.5 929.5M880 848.5L761.5 967M917.5 848.5L761.5 1004.5M955 848.5L761.5 1042M992.5 848.5L761.5 1079.5M1030 848.5L761.5 1117M1067.5 848.5L761.5 1154.5M1105 848.5L761.5 1192M1142.5 848.5L761.5 1229.5M1180 848.5L761.5 1267M1217.5 848.5L761.5 1304.5M1255 848.5L761.5 1342M1292.5 848.5L761.5 1379.5M1330 848.5L761.5 1417" stroke="#00001a" stroke-width="1.9" fill="none"/>
<rect x="763.5" y="850.5" width="70.4" height="510" fill="none" stroke="#000" stroke-width="3.7"/>
<rect x="833.9" y="792.1" width="70.4" height="568.4" fill="#ff00ff"/>
<path clip-path="url(#c32)" d="M853.3 792.1V1360.5M870.2 792.1V1360.5M887.1 792.1V1360.5" stroke="#1a0018" stroke-width="1.9" fill="none"/>
<rect x="833.9" y="792.1" width="70.4" height="568.4" fill="none" stroke="#000" stroke-width="3.7"/>
<rect x="975" y="1224.3" width="70.4" height="136.2" fill="#ffffff"/>
<path clip-path="url(#c33)" d="M979 1222.3L973 1228.3M996.3 1222.3L973 1245.6M1013.6 1222.3L973 1262.9M1030.9 1222.3L973 1280.2M1048.2 1222.3L973 1297.5M1065.5 1222.3L973 1314.8M1082.8 1222.3L973 1332.1M1100.1 1222.3L973 1349.4M1117.4 1222.3L973 1366.7M1134.7 1222.3L973 1384M1152 1222.3L973 1401.3M1169.3 1222.3L973 1418.6" stroke="#404040" stroke-width="1.35" fill="none"/>
<rect x="975" y="1224.3" width="70.4" height="136.2" fill="none" stroke="#000" stroke-width="3.7"/>
<rect x="1045.4" y="1203" width="70.4" height="157.5" fill="#ff0000"/>
<path clip-path="url(#c34)" d="M856.9 1201L1018.4 1362.5M894.4 1201L1055.9 1362.5M931.9 1201L1093.4 1362.5M969.4 1201L1130.9 1362.5M1006.9 1201L1168.4 1362.5M1044.4 1201L1205.9 1362.5M1081.9 1201L1243.4 1362.5" stroke="#1a0000" stroke-width="1.9" fill="none"/>
<rect x="1045.4" y="1203" width="70.4" height="157.5" fill="none" stroke="#000" stroke-width="3.7"/>
<rect x="1115.8" y="1218.9" width="70.4" height="141.6" fill="#0000ff"/>
<path clip-path="url(#c35)" d="M964.8 1216.9L1110.4 1362.5M1002.3 1216.9L1147.9 1362.5M1039.8 1216.9L1185.4 1362.5M1077.3 1216.9L1222.9 1362.5M1114.8 1216.9L1260.4 1362.5M1152.3 1216.9L1297.9 1362.5M1119.8 1216.9L1113.8 1222.9M1157.3 1216.9L1113.8 1260.4M1194.8 1216.9L1113.8 1297.9M1232.3 1216.9L1113.8 1335.4M1269.8 1216.9L1113.8 1372.9M1307.3 1216.9L1113.8 1410.4" stroke="#00001a" stroke-width="1.9" fill="none"/>
<rect x="1115.8" y="1218.9" width="70.4" height="141.6" fill="none" stroke="#000" stroke-width="3.7"/>
<rect x="1186.2" y="1075.9" width="70.4" height="284.6" fill="#ff00ff"/>
<path clip-path="url(#c36)" d="M1205.6 1075.9V1360.5M1222.5 1075.9V1360.5M1239.4 1075.9V1360.5" stroke="#1a0018" stroke-width="1.9" fill="none"/>
<rect x="1186.2" y="1075.9" width="70.4" height="284.6" fill="none" stroke="#000" stroke-width="3.7"/>
<rect x="1327.3" y="1304.3" width="70.4" height="56.2" fill="#ffffff"/>
<path clip-path="url(#c37)" d="M1331.3 1302.3L1325.3 1308.3M1348.6 1302.3L1325.3 1325.6M1365.9 1302.3L1325.3 1342.9M1383.2 1302.3L1325.3 1360.2M1400.5 1302.3L1325.3 1377.5M1417.8 1302.3L1325.3 1394.8M1435.1 1302.3L1325.3 1412.1M1452.4 1302.3L1325.3 1429.4" stroke="#404040" stroke-width="1.35" fill="none"/>
<rect x="1327.3" y="1304.3" width="70.4" height="56.2" fill="none" stroke="#000" stroke-width="3.7"/>
<rect x="1397.7" y="1290.5" width="70.4" height="70" fill="#ff0000"/>
<path clip-path="url(#c38)" d="M1321.7 1288.5L1395.7 1362.5M1359.2 1288.5L1433.2 1362.5M1396.7 1288.5L1470.7 1362.5M1434.2 1288.5L1508.2 1362.5" stroke="#1a0000" stroke-width="1.9" fill="none"/>
<rect x="1397.7" y="1290.5" width="70.4" height="70" fill="none" stroke="#000" stroke-width="3.7"/>
<rect x="1468.1" y="1281.9" width="70.4" height="78.6" fill="#0000ff"/>
<path clip-path="url(#c39)" d="M1354.6 1279.9L1437.2 1362.5M1392.1 1279.9L1474.7 1362.5M1429.6 1279.9L1512.2 1362.5M1467.1 1279.9L1549.7 1362.5M1504.6 1279.9L1587.2 1362.5M1472.1 1279.9L1466.1 1285.9M1509.6 1279.9L1466.1 1323.4M1547.1 1279.9L1466.1 1360.9M1584.6 1279.9L1466.1 1398.4" stroke="#00001a" stroke-width="1.9" fill="none"/>
<rect x="1468.1" y="1281.9" width="70.4" height="78.6" fill="none" stroke="#000" stroke-width="3.7"/>
<rect x="1538.5" y="1290" width="70.4" height="70.5" fill="#ff00ff"/>
<path clip-path="url(#c40)" d="M1557.9 1290V1360.5M1574.8 1290V1360.5M1591.7 1290V1360.5" stroke="#1a0018" stroke-width="1.9" fill="none"/>
<rect x="1538.5" y="1290" width="70.4" height="70.5" fill="none" stroke="#000" stroke-width="3.7"/>
<rect x="1679.6" y="1324.3" width="70.4" height="36.2" fill="#ffffff"/>
<path clip-path="url(#c41)" d="M1683.6 1322.3L1677.6 1328.3M1700.9 1322.3L1677.6 1345.6M1718.2 1322.3L1677.6 1362.9M1735.5 1322.3L1677.6 1380.2M1752.8 1322.3L1677.6 1397.5M1770.1 1322.3L1677.6 1414.8M1787.4 1322.3L1677.6 1432.1" stroke="#404040" stroke-width="1.35" fill="none"/>
<rect x="1679.6" y="1324.3" width="70.4" height="36.2" fill="none" stroke="#000" stroke-width="3.7"/>
<rect x="1750" y="1331.3" width="70.4" height="29.2" fill="#ff0000"/>
<path clip-path="url(#c42)" d="M1711.5 1329.3L1744.7 1362.5M1749 1329.3L1782.2 1362.5M1786.5 1329.3L1819.7 1362.5" stroke="#1a0000" stroke-width="1.9" fill="none"/>
<rect x="1750" y="1331.3" width="70.4" height="29.2" fill="none" stroke="#000" stroke-width="3.7"/>
<rect x="1820.4" y="1326.4" width="70.4" height="34.1" fill="#0000ff"/>
<path clip-path="url(#c43)" d="M1781.9 1324.4L1820 1362.5M1819.4 1324.4L1857.5 1362.5M1856.9 1324.4L1895 1362.5M1824.4 1324.4L1818.4 1330.4M1861.9 1324.4L1818.4 1367.9M1899.4 1324.4L1818.4 1405.4" stroke="#00001a" stroke-width="1.9" fill="none"/>
<rect x="1820.4" y="1326.4" width="70.4" height="34.1" fill="none" stroke="#000" stroke-width="3.7"/>
<rect x="1890.8" y="1300.4" width="70.4" height="60.1" fill="#ff00ff"/>
<path clip-path="url(#c44)" d="M1910.2 1300.4V1360.5M1927.1 1300.4V1360.5M1944 1300.4V1360.5" stroke="#1a0018" stroke-width="1.9" fill="none"/>
<rect x="1890.8" y="1300.4" width="70.4" height="60.1" fill="none" stroke="#000" stroke-width="3.7"/>
<rect x="233.5" y="1264.4" width="15" height="3.5" fill="#000"/>
<rect x="233.5" y="1169.8" width="29" height="5" fill="#000"/>
<rect x="233.5" y="1077.4" width="15" height="3.5" fill="#000"/>
<rect x="233.5" y="982.8" width="29" height="5" fill="#000"/>
<rect x="233.5" y="890.4" width="15" height="3.5" fill="#000"/>
<rect x="233.5" y="795.8" width="29" height="5" fill="#000"/>
<rect x="233.5" y="703.4" width="15" height="3.5" fill="#000"/>
<rect x="233.5" y="608.8" width="29" height="5" fill="#000"/>
<rect x="233.5" y="516.4" width="15" height="3.5" fill="#000"/>
<rect x="233.5" y="421.8" width="29" height="5" fill="#000"/>
<rect x="233.5" y="329.4" width="15" height="3.5" fill="#000"/>
<rect x="233.5" y="234.8" width="29" height="5" fill="#000"/>
<rect x="233.5" y="142.4" width="15" height="3.5" fill="#000"/>
<rect x="585.35" y="1348" width="4" height="12.5" fill="#000"/>
<rect x="937.65" y="1348" width="4" height="12.5" fill="#000"/>
<rect x="1289.95" y="1348" width="4" height="12.5" fill="#000"/>
<rect x="1642.25" y="1348" width="4" height="12.5" fill="#000"/>
<rect x="231.5" y="47" width="1768.3" height="5" fill="#000"/>
<rect x="231.5" y="47" width="4.5" height="1316" fill="#000"/>
<rect x="231.5" y="1359.1" width="1768.3" height="3.9" fill="#000"/>
<rect x="1996" y="47" width="3.8" height="1316" fill="#000"/>
<text x="208.67" y="1375.6" font-size="58" text-anchor="end">0</text>
<text x="208.67" y="1188.17" font-size="58" text-anchor="end">10</text>
<text x="208.67" y="1000.74" font-size="58" text-anchor="end">20</text>
<text x="208.67" y="813.31" font-size="58" text-anchor="end">30</text>
<text x="208.67" y="625.88" font-size="58" text-anchor="end">40</text>
<text x="208.67" y="438.45" font-size="58" text-anchor="end">50</text>
<text x="208.67" y="251.02" font-size="58" text-anchor="end">60</text>
<text x="208.67" y="63.59" font-size="58" text-anchor="end">70</text>
<text x="324.77" y="1433.5" font-size="58" textLength="172.86" lengthAdjust="spacingAndGlyphs">1.0-1.5</text>
<text x="678.72" y="1433.5" font-size="58" textLength="170.72" lengthAdjust="spacingAndGlyphs">1.5-2.0</text>
<text x="1027.79" y="1433.5" font-size="58" textLength="173.85" lengthAdjust="spacingAndGlyphs">2.0-2.5</text>
<text x="1380.05" y="1433.5" font-size="58" textLength="176.16" lengthAdjust="spacingAndGlyphs">2.5-3.0</text>
<text x="1763.99" y="1433.5" font-size="58" textLength="112.64" lengthAdjust="spacingAndGlyphs">&gt;3.0</text>
<text x="970.21" y="1538.5" font-size="70" textLength="292.51" lengthAdjust="spacingAndGlyphs">Size (μm)</text>
<g transform="translate(85.7 0) rotate(-90)"><text x="-879.79" y="0" font-size="70" textLength="370.91" lengthAdjust="spacingAndGlyphs">Fraction (%)</text></g>
<text x="325.55" y="141.4" font-size="68" textLength="88.4" lengthAdjust="spacingAndGlyphs" font-weight="bold">(b)</text>
<rect x="1221.8" y="137.7" width="150" height="74.3" fill="#ffffff"/>
<path clip-path="url(#c45)" d="M1225.8 135.7L1219.8 141.7M1243.1 135.7L1219.8 159M1260.4 135.7L1219.8 176.3M1277.7 135.7L1219.8 193.6M1295 135.7L1219.8 210.9M1312.3 135.7L1219.8 228.2M1329.6 135.7L1219.8 245.5M1346.9 135.7L1219.8 262.8M1364.2 135.7L1219.8 280.1M1381.5 135.7L1219.8 297.4M1398.8 135.7L1219.8 314.7M1416.1 135.7L1219.8 332M1433.4 135.7L1219.8 349.3" stroke="#404040" stroke-width="1.35" fill="none"/>
<rect x="1221.8" y="137.7" width="150" height="74.3" fill="none" stroke="#000" stroke-width="3.9"/>
<text x="1391.27" y="196.9" font-size="70" textLength="455.14" lengthAdjust="spacingAndGlyphs">As-cast Steel 2</text>
<rect x="1221.8" y="219.5" width="150" height="73.7" fill="#ff0000"/>
<path clip-path="url(#c46)" d="M1145.8 217.5L1223.5 295.2M1183.3 217.5L1261 295.2M1220.8 217.5L1298.5 295.2M1258.3 217.5L1336 295.2M1295.8 217.5L1373.5 295.2M1333.3 217.5L1411 295.2" stroke="#1a0000" stroke-width="1.9" fill="none"/>
<rect x="1221.8" y="219.5" width="150" height="73.7" fill="none" stroke="#000" stroke-width="3.9"/>
<text x="1389.01" y="279.1" font-size="70" textLength="470.02" lengthAdjust="spacingAndGlyphs">Heated for 0.5h</text>
<rect x="1221.8" y="301.4" width="150" height="76.3" fill="#0000ff"/>
<path clip-path="url(#c47)" d="M1108.3 299.4L1188.6 379.7M1145.8 299.4L1226.1 379.7M1183.3 299.4L1263.6 379.7M1220.8 299.4L1301.1 379.7M1258.3 299.4L1338.6 379.7M1295.8 299.4L1376.1 379.7M1333.3 299.4L1413.6 379.7M1225.8 299.4L1219.8 305.4M1263.3 299.4L1219.8 342.9M1300.8 299.4L1219.8 380.4M1338.3 299.4L1219.8 417.9M1375.8 299.4L1219.8 455.4M1413.3 299.4L1219.8 492.9" stroke="#00001a" stroke-width="1.9" fill="none"/>
<rect x="1221.8" y="301.4" width="150" height="76.3" fill="none" stroke="#000" stroke-width="3.9"/>
<text x="1389.01" y="361.9" font-size="70" textLength="470.02" lengthAdjust="spacingAndGlyphs">Heated for 1.0h</text>
<rect x="1221.8" y="386" width="150" height="73.5" fill="#ff00ff"/>
<path clip-path="url(#c48)" d="M1241.2 386V459.5M1258.1 386V459.5M1275 386V459.5M1291.9 386V459.5M1308.8 386V459.5M1325.7 386V459.5M1342.6 386V459.5M1359.5 386V459.5" stroke="#1a0018" stroke-width="1.9" fill="none"/>
<rect x="1221.8" y="386" width="150" height="73.5" fill="none" stroke="#000" stroke-width="3.9"/>
<text x="1389.01" y="445.6" font-size="70" textLength="470.02" lengthAdjust="spacingAndGlyphs">Heated for 2.0h</text>
</g>
</svg>
</body>
</html>
